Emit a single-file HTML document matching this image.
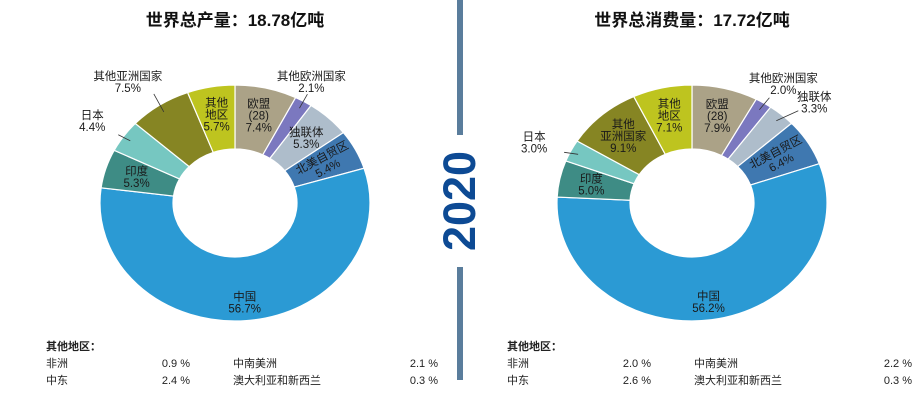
<!DOCTYPE html>
<html><head><meta charset="utf-8">
<style>
body{margin:0;background:#fff;width:922px;height:408px;overflow:hidden;font-family:"Liberation Sans","Noto Sans CJK SC",sans-serif;}
svg text{font-family:"Liberation Sans","Noto Sans CJK SC",sans-serif;}
</style></head>
<body>
<svg id="chart" width="922" height="408" viewBox="0 0 922 408" xmlns="http://www.w3.org/2000/svg">
<text x="235" y="26" text-anchor="middle" font-size="17" font-weight="bold" fill="#111">世界总产量：18.78亿吨</text>
<text x="692" y="26" text-anchor="middle" font-size="17" font-weight="bold" fill="#111">世界总消费量：17.72亿吨</text>
<rect x="457" y="0" width="6" height="135" fill="#5a7d9c"/>
<rect x="457" y="267" width="6" height="113" fill="#5a7d9c"/>
<text transform="translate(475,201) rotate(-90)" text-anchor="middle" font-size="45" font-weight="bold" fill="#0d4a94">2020</text>
<g id="left"></g>
<g id="right"></g>
<g font-size="11" fill="#222">
<text x="46" y="350" font-weight="bold">其他地区：</text>
<text x="46" y="367">非洲</text><text x="190" y="367" text-anchor="end">0.9 %</text>
<text x="233" y="367">中南美洲</text><text x="438" y="367" text-anchor="end">2.1 %</text>
<text x="46" y="384">中东</text><text x="190" y="384" text-anchor="end">2.4 %</text>
<text x="233" y="384">澳大利亚和新西兰</text><text x="438" y="384" text-anchor="end">0.3 %</text>
</g>
<g font-size="11" fill="#222">
<text x="507" y="350" font-weight="bold">其他地区：</text>
<text x="507" y="367">非洲</text><text x="651" y="367" text-anchor="end">2.0 %</text>
<text x="694" y="367">中南美洲</text><text x="912" y="367" text-anchor="end">2.2 %</text>
<text x="507" y="384">中东</text><text x="651" y="384" text-anchor="end">2.6 %</text>
<text x="694" y="384">澳大利亚和新西兰</text><text x="912" y="384" text-anchor="end">0.3 %</text>
</g>
</svg>
<script>
const categories=["欧盟\n(28)","其他欧洲国家","独联体","北美自贸区","中国","印度","日本","其他亚洲国家","其他\n地区"];
const productionValues=[7.4,2.1,5.3,5.4,56.7,5.3,4.4,7.5,5.7];
const consumptionValues=[7.9,2.0,3.3,6.4,56.2,5.0,3.0,9.1,7.1];
const colors=["#aba287","#7b78bf","#aebdcb","#3f78b0","#2b9ad4","#3e8c85","#76c7c1","#868523","#bec41f"];
const ns="http://www.w3.org/2000/svg";
function pt(cx,cy,rx,ry,a){return [cx+rx*Math.sin(a),cy-ry*Math.cos(a)];}
function draw(gid,vals,cx,cy,outside,nameLabels){
  const g=document.getElementById(gid);
  const total=vals.reduce((a,b)=>a+b,0);
  const R=135,RY=118,r=62,ry=54;
  let a0=0;
  vals.forEach((v,i)=>{
    const a1=a0+v/total*2*Math.PI;
    const p1=pt(cx,cy,R,RY,a0),p2=pt(cx,cy,R,RY,a1),p3=pt(cx,cy,r,ry,a1),p4=pt(cx,cy,r,ry,a0);
    const lg=(a1-a0)>Math.PI?1:0;
    const path=document.createElementNS(ns,"path");
    path.setAttribute("d",`M${p1[0]},${p1[1]}A${R},${RY} 0 ${lg} 1 ${p2[0]},${p2[1]}L${p3[0]},${p3[1]}A${r},${ry} 0 ${lg} 0 ${p4[0]},${p4[1]}Z`);
    path.setAttribute("fill",colors[i]);path.setAttribute("stroke","#fff");path.setAttribute("stroke-width","1.2");
    
    
    g.appendChild(path);
    const am=(a0+a1)/2;
    const lines=nameLabels[i].split("\n").concat([v.toFixed(1)+"%"]);
    const o=outside[i];
    let lx,ly;
    if(o){
      const e=pt(cx,cy,R-8,RY-8,am);
      lx=e[0]+o[0];ly=e[1]+o[1];
      const ln=document.createElementNS(ns,"line");
      ln.setAttribute("x1",e[0]);ln.setAttribute("y1",e[1]);
      ln.setAttribute("x2",e[0]+o[2]);ln.setAttribute("y2",e[1]+o[3]);
      ln.setAttribute("stroke","#333");ln.setAttribute("stroke-width","0.8");
      
      
      g.appendChild(ln);
    }else{
      const rr=i===4?0.72:0.56;
      const e=pt(cx,cy,r+(R-r)*rr,ry+(RY-ry)*rr,am);
      lx=e[0];ly=e[1]-(lines.length-1)*6+4;
    }
    const t=document.createElementNS(ns,"text");
    t.setAttribute("text-anchor","middle");t.setAttribute("font-size","11.5");t.setAttribute("fill","#1a1a1a");
    if(i===3){t.setAttribute("transform",`rotate(-28 ${lx} ${ly+6})`);}
    
    
    lines.forEach((s,k)=>{const ts=document.createElementNS(ns,"tspan");ts.setAttribute("x",lx);ts.setAttribute("y",ly+k*12);ts.textContent=s;t.appendChild(ts);});
    g.appendChild(t);
    a0=a1;
  });
}
const namesL=["欧盟\n(28)","其他欧洲国家","独联体","北美自贸区","中国","印度","日本","其他亚洲国家","其他\n地区"];
const namesR=["欧盟\n(28)","其他欧洲国家","独联体","北美自贸区","中国","印度","日本","其他\n亚洲国家","其他\n地区"];
draw("left",productionValues,235,203,[null,[12,-28,8,-14],null,null,null,null,[-38,-22,-12,-6],[-36,-32,-10,-18],null],namesL);
draw("right",consumptionValues,692,203,[null,[24,-28,10,-12],[38,-20,22,-10],null,null,null,[-44,-14,-14,-2],null,null],namesR);
</script>
</body></html>
